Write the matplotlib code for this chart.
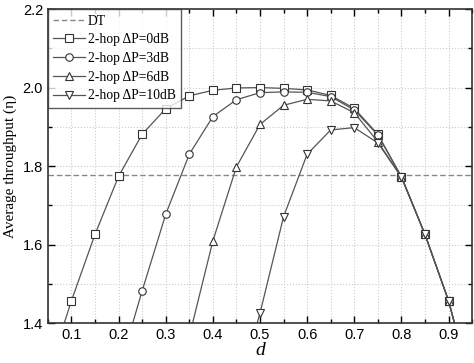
import numpy as np
import matplotlib
matplotlib.use("Agg")
import matplotlib.pyplot as plt
from matplotlib.ticker import MultipleLocator

d = [0.05, 0.1, 0.15, 0.2, 0.25, 0.3, 0.35, 0.4, 0.45, 0.5,
     0.55, 0.6, 0.65, 0.7, 0.75, 0.8, 0.85, 0.9, 0.95]

dt_level = 1.776

hop_0db = [1.27, 1.457, 1.626, 1.774, 1.881, 1.946, 1.979, 1.993, 1.999, 2.0,
           1.998, 1.994, 1.980, 1.947, 1.881, 1.773, 1.626, 1.457, 1.23]
hop_3db = [1.05, 1.10, 1.20, 1.277, 1.482, 1.677, 1.830, 1.926, 1.969, 1.987,
           1.989, 1.988, 1.977, 1.943, 1.879, 1.773, 1.626, 1.457, 1.23]
hop_6db = [0.9, 0.95, 1.0, 1.05, 1.1, 1.2, 1.366, 1.609, 1.798, 1.906,
           1.955, 1.970, 1.966, 1.936, 1.862, 1.772, 1.626, 1.457, 1.23]
hop_10db = [0.8, 0.85, 0.9, 0.95, 1.0, 1.05, 1.1, 1.15, 1.215, 1.425,
            1.671, 1.830, 1.892, 1.898, 1.859, 1.772, 1.626, 1.457, 1.23]

labels = ["DT", "2-hop \u0394P=0dB", "2-hop \u0394P=3dB",
          "2-hop \u0394P=6dB", "2-hop \u0394P=10dB"]

fig = plt.figure(figsize=(4.74, 3.63), dpi=100)
ax = fig.add_axes([0.101, 0.110, 0.895, 0.865])

ax.axhline(dt_level, color="#888888", ls=(0, (4, 2)), lw=1.0, label=labels[0])

style = dict(color="#555555", lw=0.9, ms=5.4, mfc="white", mec="#333333", mew=0.8)
ax.plot(d, hop_0db, marker="s", label=labels[1], **style)
ax.plot(d, hop_3db, marker="o", label=labels[2], **style)
ax.plot(d, hop_6db, marker="^", label=labels[3], **style)
ax.plot(d, hop_10db, marker="v", label=labels[4], **style)

ax.set_xlim(0.05, 0.95)
ax.set_ylim(1.4, 2.2)
ax.xaxis.set_minor_locator(MultipleLocator(0.05))
ax.yaxis.set_minor_locator(MultipleLocator(0.1))
ax.grid(True, which="both", color="#cccccc", ls=":", lw=0.8)
ax.set_axisbelow(True)

ax.tick_params(which="both", direction="in", top=True, right=True, width=1.0)
ax.tick_params(which="major", length=5)
ax.tick_params(which="minor", length=3)
xt = np.arange(0.1, 0.95, 0.1)
yt = np.arange(1.4, 2.21, 0.2)
ax.set_xticks(xt)
ax.set_xticklabels(["%.1f" % v for v in xt], family="Liberation Sans", fontsize=10.5)
ax.set_yticks(yt)
ax.set_yticklabels(["%.1f" % v for v in yt], family="Liberation Sans", fontsize=10.5)

for sp in ax.spines.values():
    sp.set_linewidth(1.2)
    sp.set_color("#333333")

ax.set_ylabel("Average throughput (\u03b7)", family="Liberation Serif", fontsize=11)
ax.set_xlabel("d", family="Liberation Serif", style="italic", fontsize=14, labelpad=0)

leg = ax.legend(loc="upper left", prop={"family": "Liberation Serif", "size": 9.8},
                frameon=True, fancybox=False, borderaxespad=0, handlelength=2.3,
                labelspacing=0.42, borderpad=0.4, handletextpad=0.25)
leg.get_frame().set_edgecolor("#333333")
leg.get_frame().set_linewidth(1.0)

fig.savefig("out.png", dpi=100)
